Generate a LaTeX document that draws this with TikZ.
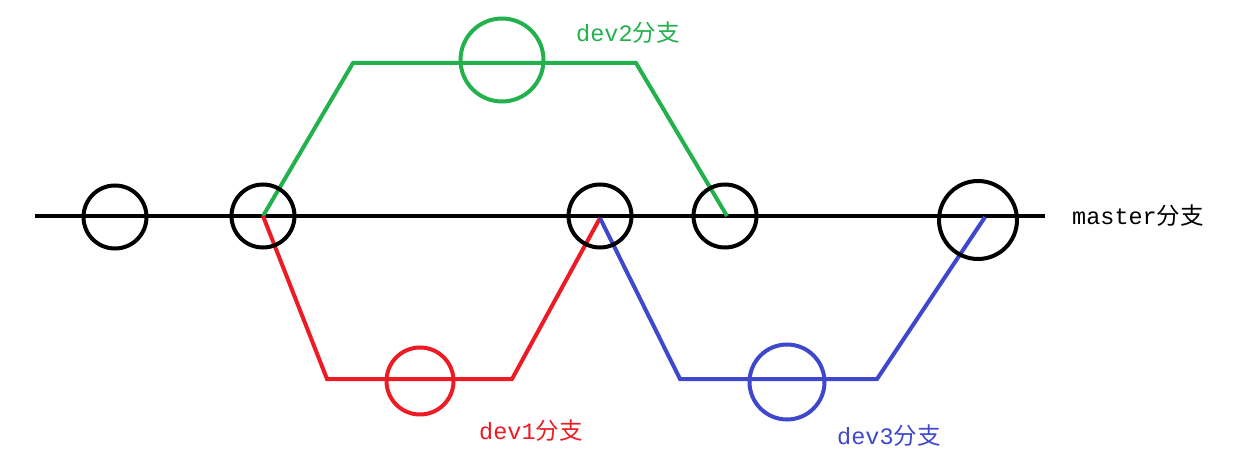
\documentclass[tikz,border=0pt]{standalone}
\usepackage{fontspec}
\setmainfont{Liberation Mono}
\newfontfamily\cjk{Noto Sans CJK SC}
\definecolor{pgreen}{RGB}{34,177,76}
\definecolor{pred}{RGB}{237,28,36}
\definecolor{pblue}{RGB}{63,72,204}
\begin{document}
\begin{tikzpicture}[x=1pt,y=-1pt,
  line/.style={line width=4pt},
  commit/.style={circle,draw,line width=4pt,inner sep=0pt},
  lbl/.style={font=\fontsize{23.5}{26}\selectfont,inner sep=0pt,anchor=west}]
\useasboundingbox (0,0) rectangle (1239,465);
% master line
\coordinate (mstart) at (35,216);
\coordinate (mend) at (1045,216);
\coordinate (b1) at (263,216);
\coordinate (b2) at (600,218);
\coordinate (b3) at (727,216);
\coordinate (b4) at (985,217);
% green
\coordinate (g1) at (353,63);
\coordinate (g2) at (636,63);
% red
\coordinate (r1) at (327,379);
\coordinate (r2) at (512,379);
% blue
\coordinate (u1) at (680,379);
\coordinate (u2) at (877,379);

\draw[line] (mstart) -- (mend);
\draw[line,pgreen] (b1) -- (g1) -- (g2) -- (b3);
\draw[line,pred] (b1) -- (r1) -- (r2) -- (b2);
\draw[line,pblue] (b2) -- (u1) -- (u2) -- (b4);

\node[commit,minimum size=63pt] (c1) at (115,217) {};
\node[commit,minimum size=63pt] (c2) at (263,216) {};
\node[commit,minimum size=63pt] (c3) at (600,216) {};
\node[commit,minimum size=63pt] (c4) at (725,216) {};
\node[commit,minimum size=78pt] (c5) at (978,220) {};
\node[commit,pgreen,minimum size=83pt] (cg) at (502,60) {};
\node[commit,pred,minimum size=67pt] (cr) at (420,381) {};
\node[commit,pblue,minimum size=75pt] (cb) at (787,382) {};

\node[lbl,pgreen] (tg) at (576,33) {dev2{\cjk 分支}};
\node[lbl] (tm) at (1072,216) {master{\cjk 分支}};
\node[lbl,pred] (tr) at (479,431) {dev1{\cjk 分支}};
\node[lbl,pblue] (tb) at (837,436) {dev3{\cjk 分支}};
\end{tikzpicture}
\end{document}
